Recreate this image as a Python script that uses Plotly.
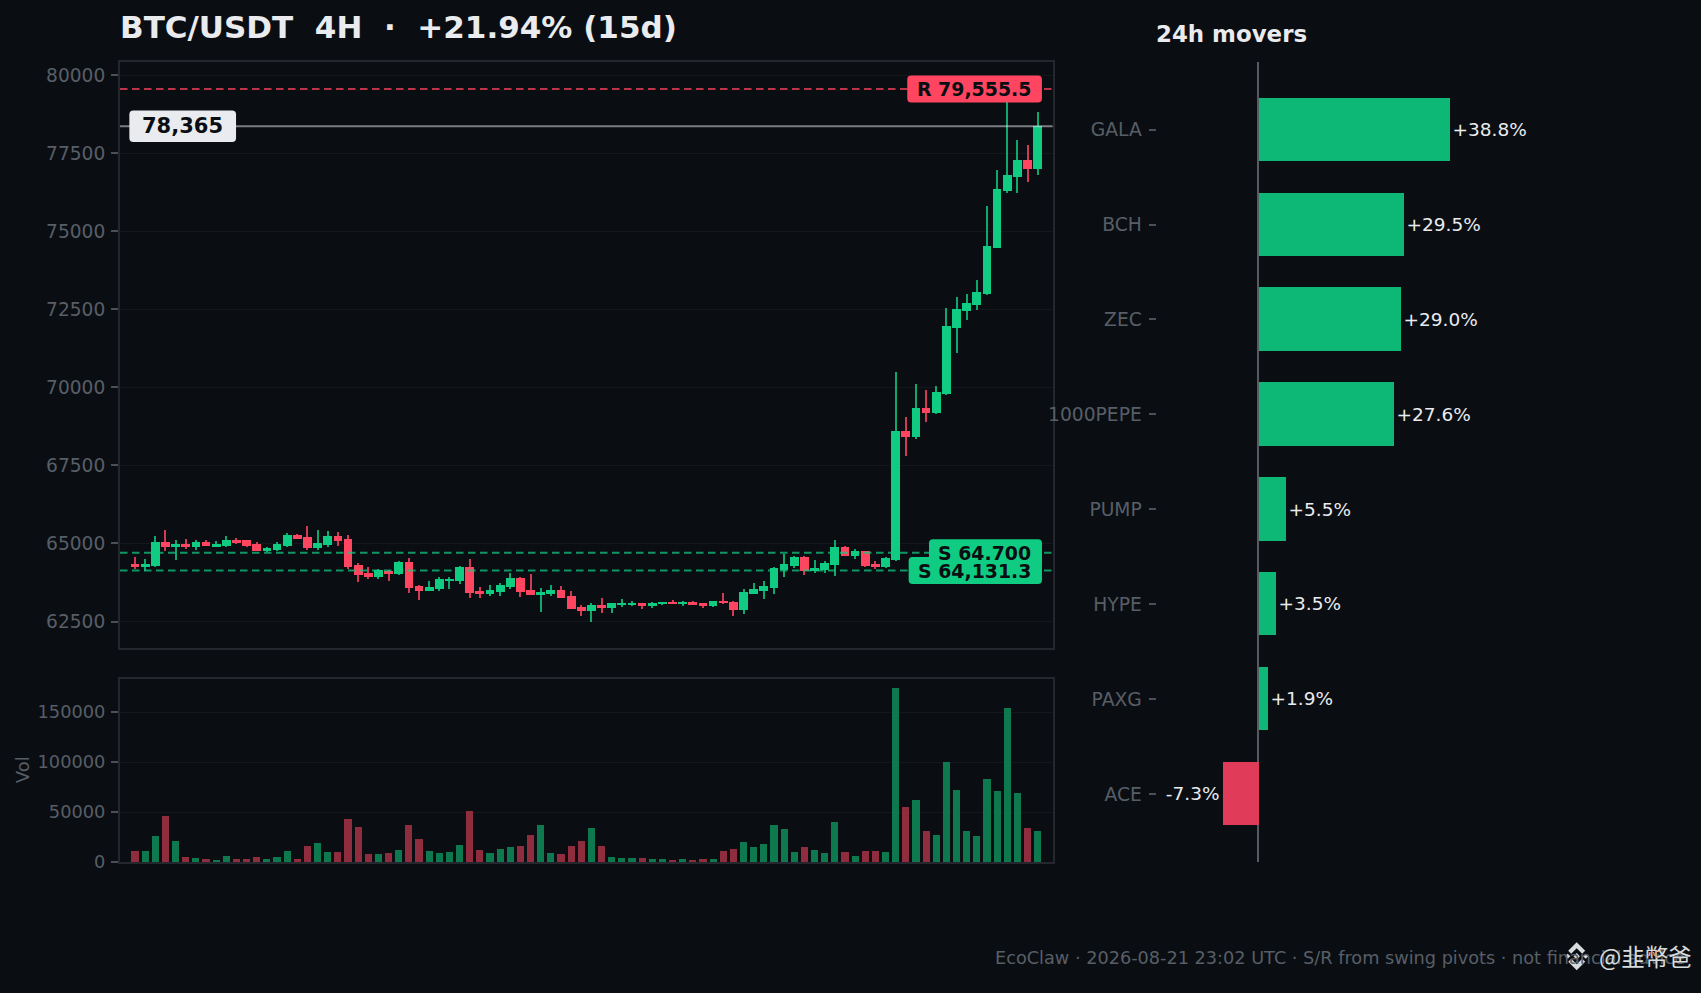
import plotly.graph_objects as go

W = 1701
H = 993

# 4H candles
opens = [64334, 64239, 64271, 65032, 64873, 64968, 64873, 65032, 64905, 64905,
         65095, 65095, 64968, 64746, 64778, 64905, 65254, 65190, 64841, 64937,
         65222, 65127, 64302, 64049, 63922, 64112, 64017, 64398, 63636, 63478,
         63541, 63795, 63795, 64239, 63478, 63383, 63446, 63605, 63890, 63510,
         63351, 63383, 63510, 63319, 62939, 62812, 63002, 62907, 63002, 63002,
         63097, 62971, 63034, 63129, 63034, 63129, 63066, 62971, 63161, 63129,
         62844, 63383, 63478, 63573, 64144, 64271, 64556, 64112, 64144, 64302,
         64873, 64588, 64746, 64334, 64239, 64461, 68583, 68393, 69344, 69154,
         69788, 71881, 72420, 72642, 72991, 74450, 76289, 76733, 77272, 76986]
highs = [64545, 64493, 65222, 65412, 65095, 65127, 65095, 65095, 65063, 65222,
         65159, 65095, 65032, 64873, 65032, 65317, 65285, 65539, 65412, 65381,
         65349, 65254, 64366, 64239, 64176, 64144, 64429, 64524, 63668, 63795,
         63922, 63922, 64271, 64493, 63605, 63668, 63732, 64049, 63922, 64017,
         63573, 63668, 63636, 63478, 63002, 63097, 63256, 63097, 63224, 63161,
         63097, 63129, 63129, 63193, 63161, 63161, 63097, 63161, 63415, 63161,
         63541, 63732, 63795, 64239, 64651, 64588, 64588, 64461, 64429, 65095,
         64905, 64810, 64746, 64429, 64556, 70486, 69027, 70105, 69915, 70042,
         72547, 72896, 72991, 73435, 75813, 76954, 79555, 77906, 77747, 78794]
lows = [64176, 64102, 64239, 64736, 64461, 64810, 64778, 64905, 64905, 64873,
        64968, 64873, 64736, 64704, 64746, 64873, 65127, 64778, 64778, 64873,
        64905, 64165, 63763, 63858, 63858, 63795, 63985, 63415, 63193, 63478,
        63478, 63541, 63700, 63256, 63256, 63319, 63319, 63541, 63288, 63351,
        62780, 63319, 63256, 62875, 62653, 62463, 62749, 62749, 62939, 62971,
        62875, 62907, 63002, 63034, 62971, 63002, 62907, 62939, 63034, 62653,
        62717, 63383, 63224, 63383, 63922, 64207, 63985, 64049, 64049, 63954,
        64588, 64493, 64239, 64176, 64207, 64429, 67790, 68330, 68869, 69122,
        69757, 71088, 72135, 72452, 72959, 74450, 76225, 76225, 76574, 76796]
closes = [64228, 64334, 65032, 64873, 64968, 64873, 65032, 64905, 64968, 65095,
          65032, 64905, 64746, 64841, 64968, 65254, 65127, 64841, 65000, 65222,
          65063, 64239, 63985, 63922, 64144, 64017, 64398, 63573, 63478, 63605,
          63858, 63858, 64239, 63415, 63383, 63510, 63668, 63890, 63446, 63351,
          63446, 63510, 63256, 62875, 62812, 63002, 62907, 63066, 63066, 63097,
          62971, 63097, 63129, 63034, 63129, 63002, 62971, 63161, 63066, 62844,
          63446, 63541, 63636, 64207, 64334, 64556, 64112, 64207, 64366, 64873,
          64588, 64746, 64271, 64239, 64524, 68583, 68393, 69344, 69154, 69852,
          71945, 72484, 72706, 73054, 74513, 76352, 76796, 77272, 76986, 78365]
volumes = [11570, 11570, 26440, 46270, 21480, 5620, 4630, 3640, 2640, 6610,
           3640, 3640, 5620, 3640, 5620, 11570, 3640, 16530, 19500, 10580,
           10580, 43300, 35360, 8590, 8590, 9580, 12560, 37350, 23470, 11570,
           9580, 10580, 17520, 51230, 12560, 9580, 13550, 15530, 16530, 27430,
           37350, 9580, 8590, 16530, 21480, 34370, 16530, 5620, 4630, 4630,
           4630, 3640, 3640, 2640, 3640, 1650, 3640, 3640, 11570, 13550,
           20490, 15530, 18510, 37350, 33380, 10580, 15530, 12560, 9580, 40320,
           10580, 6610, 11570, 11570, 10580, 174170, 55190, 62130, 31400, 27430,
           100800, 72050, 31400, 26440, 82960, 71060, 154340, 69070, 34370, 31400]

price_ticks = [62500, 65000, 67500, 70000, 72500, 75000, 77500, 80000]
vol_ticks = [0, 50000, 100000, 150000]

resistance = 79555.5
support_hi = 64700
support_lo = 64131.3
last_price = 78365

coins = ["GALA", "BCH", "ZEC", "1000PEPE", "PUMP", "HYPE", "PAXG", "ACE"]
changes = [38.8, 29.5, 29.0, 27.6, 5.5, 3.5, 1.9, -7.3]

BG = "#0a0e12"
FRAME = "#24282e"
GRID = "#14181d"
TICK = "#4b5058"
MUTED = "#585e67"
LIGHT = "#e9ebef"
GREEN = "#10cc82"
RED = "#ff4560"
DARK = "#0a0e12"
FONT = "DejaVu Sans"


def rounded(w, h, r=4):
    x = w / 2
    y = h / 2
    return (f"M {-x + r} {-y} L {x - r} {-y} Q {x} {-y} {x} {-y + r} "
            f"L {x} {y - r} Q {x} {y} {x - r} {y} L {-x + r} {y} "
            f"Q {-x} {y} {-x} {y - r} L {-x} {-y + r} Q {-x} {-y} {-x + r} {-y} Z")


def diamond(cx, cy, r):
    return f"M {cx} {cy - r} L {cx + r} {cy} L {cx} {cy + r} L {cx - r} {cy} Z"


xs = list(range(len(opens)))
up = [c >= o for o, c in zip(opens, closes)]

fig = go.Figure()

# wicks
fig.add_trace(go.Bar(
    x=xs, y=[h - l for h, l in zip(highs, lows)], base=lows, width=0.2,
    marker=dict(color=["#0fa76c" if u else "#d03a52" for u in up], line_width=0),
    xaxis="x", yaxis="y", showlegend=False))
# bodies
fig.add_trace(go.Bar(
    x=xs, y=[abs(c - o) for o, c in zip(opens, closes)],
    base=[min(o, c) for o, c in zip(opens, closes)], width=0.86,
    marker=dict(color=[GREEN if u else RED for u in up], line_width=0),
    xaxis="x", yaxis="y", showlegend=False))
# volume
fig.add_trace(go.Bar(
    x=xs, y=volumes, width=0.7,
    marker=dict(color=["#0e784f" if u else "#8f2c3e" for u in up], line_width=0),
    xaxis="x2", yaxis="y2", showlegend=False))
# movers
fig.add_trace(go.Bar(
    x=changes, y=coins, orientation="h", width=0.667,
    marker=dict(color=["#0db877" if c >= 0 else "#e03c5a" for c in changes], line_width=0),
    text=[f"{c:+.1f}%" for c in changes], textposition="outside", cliponaxis=False,
    textfont=dict(family=FONT, size=18.5, color=LIGHT),
    xaxis="x3", yaxis="y3", showlegend=False))


def level(value, color, dash):
    fig.add_shape(type="line", xref="x domain", yref="y", x0=0, x1=1, y0=value, y1=value,
                  line=dict(color=color, width=2, dash=dash), layer="above")


def label_box(px, value, w, h, color):
    fig.add_shape(type="path", xref="paper", yref="y", xsizemode="pixel", ysizemode="pixel",
                  xanchor=px / W, yanchor=value, path=rounded(w, h), fillcolor=color,
                  line_width=0, layer="above")


level(resistance, "rgba(255,69,96,0.72)", "7.5px,4.5px")
level(support_hi, "rgba(16,204,130,0.72)", "7.5px,4.5px")
level(support_lo, "rgba(16,204,130,0.72)", "7.5px,4.5px")
level(last_price, "rgba(233,235,239,0.5)", "solid")

label_box(974.6, resistance, 134.7, 27, RED)
label_box(985.5, support_hi, 113, 27, GREEN)
label_box(975.3, support_lo, 133.3, 27, GREEN)
label_box(182.7, last_price, 106.7, 31.7, LIGHT)

# binance mark of the watermark
LOGO = "#d8dadc"
for p in [diamond(0, 0, 3.2), diamond(-9, 0, 2.6), diamond(9, 0, 2.6),
          "M 0 -14 L 8.5 -5.5 L 5.5 -2.5 L 0 -8 L -5.5 -2.5 L -8.5 -5.5 Z",
          "M 0 14 L 8.5 5.5 L 5.5 2.5 L 0 8 L -5.5 2.5 L -8.5 5.5 Z"]:
    fig.add_shape(type="path", xref="paper", yref="paper", xsizemode="pixel", ysizemode="pixel",
                  xanchor=1576.7 / W, yanchor=1 - 966 / H, path=p, fillcolor=LOGO,
                  line_width=0, layer="above")


def text_px(text, px, py, size, color, anchor="left", bold=False, family=FONT):
    fig.add_annotation(xref="paper", yref="paper", x=px / W, y=1 - py / H, text=text,
                       showarrow=False, xanchor=anchor, yanchor="middle", borderpad=0, borderwidth=0,
                       font=dict(family=family, size=size, color=color, weight="bold" if bold else "normal"))


def price_label(text, value, px, color=None):
    fig.add_annotation(xref="paper", yref="y", x=px / W, y=value, text=text, showarrow=False,
                       xanchor="right", yanchor="middle", borderpad=0, borderwidth=0,
                       bgcolor=color,
                       font=dict(family=FONT, size=18.9, color=DARK, weight="bold"))


price_label(f"R {resistance:,.1f}", resistance, 1031)
price_label(f"S {support_hi:,.0f}", support_hi, 1031)
price_label(f"S {support_lo:,.1f}", support_lo, 1031, GREEN)
fig.add_annotation(xref="paper", yref="y", x=182.7 / W, y=last_price, text=f"{last_price:,}",
                   showarrow=False, xanchor="center", yanchor="middle",
                   font=dict(family=FONT, size=21, color=DARK, weight="bold"))

text_px("BTC/USDT\u00a0\u00a04H\u00a0\u00a0·\u00a0\u00a0+21.94% (15d)", 120, 27.5, 31, LIGHT, bold=True)
text_px("24h movers", 1156, 34, 22.9, LIGHT, bold=True)
text_px("EcoClaw · 2026-08-21 23:02 UTC · S/R from swing pivots · not financial advice",
        995, 968, 17.7, MUTED)
text_px("@韭幣爸", 1692, 966, 23.5, "#d8dadc", anchor="right", family="Noto Sans CJK TC")
text_px("Vol", 22, 778, 18, MUTED)
fig.layout.annotations[-1].textangle = -90
fig.layout.annotations[-1].xanchor = "center"

x_dom = [120 / W, 1052.7 / W]
axis_common = dict(showline=True, linecolor=FRAME, linewidth=2, mirror=True, zeroline=False)

fig.update_layout(
    width=W, height=H,
    margin=dict(l=0, r=0, t=0, b=0),
    paper_bgcolor=BG, plot_bgcolor=BG,
    barmode="overlay",
    bargap=0,
    showlegend=False,
    font=dict(family=FONT, size=18, color=MUTED),
    xaxis=dict(domain=x_dom, anchor="y", range=[-1.48, 90.48], showticklabels=False,
               ticks="", showgrid=False, **axis_common),
    yaxis=dict(domain=[1 - 655 / H, 1 - 63 / H], anchor="x", range=[61639, 80411],
               tickvals=price_ticks, tickformat="d", ticks="outside", ticklen=7, tickwidth=2,
               tickcolor=TICK, tickfont=dict(size=18.6, color=MUTED), gridcolor=GRID, gridwidth=1,
               ticklabelstandoff=2, **axis_common),
    xaxis2=dict(domain=x_dom, anchor="y2", range=[-1.48, 90.48], showticklabels=False,
                ticks="", showgrid=False, **axis_common),
    yaxis2=dict(domain=[1 - 870.7 / H, 1 - 685.7 / H], anchor="x2", range=[0, 183500],
                tickvals=vol_ticks, tickformat="d", ticks="outside", ticklen=7, tickwidth=2,
                tickcolor=TICK, tickfont=dict(size=17.8, color=MUTED), gridcolor=GRID, gridwidth=1,
                ticklabelstandoff=2, **axis_common),
    xaxis3=dict(domain=[1156.5 / W, 1690 / W], anchor="y3", range=[-20.7, 87.8], showgrid=False,
                showticklabels=False, ticks="", zeroline=True, zerolinecolor="#555a63", zerolinewidth=2,
                showline=False),
    yaxis3=dict(domain=[1 - 870.7 / H, 1 - 63 / H], anchor="x3", type="category",
                categoryorder="array", categoryarray=coins, range=[7.716, -0.709],
                showgrid=False, showline=False, zeroline=False, ticks="outside", ticklen=7, tickwidth=2,
                tickcolor=TICK, tickfont=dict(size=18.7, color=MUTED), ticklabelstandoff=3),
)

fig.write_html("out.html", config={"displayModeBar": False},
               post_script="document.documentElement.style.overflow='hidden';"
                           "document.body.style.overflow='hidden';"
                           "document.body.style.margin='0';"
                           "document.body.style.background='" + BG + "';")
